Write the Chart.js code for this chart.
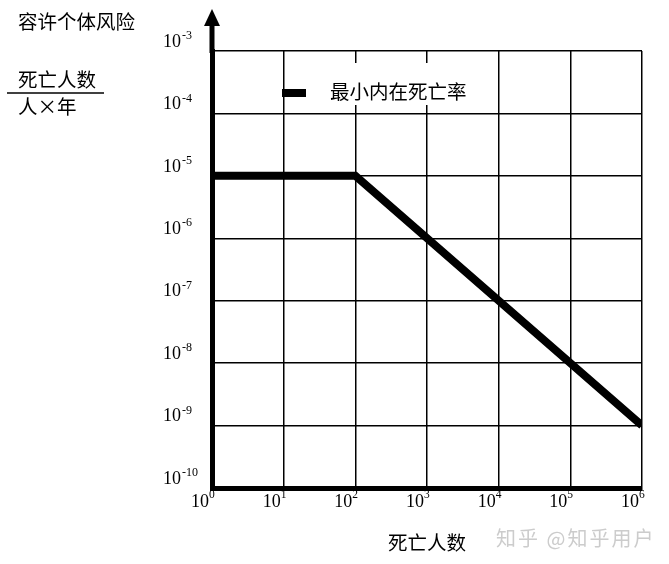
<!DOCTYPE html>
<html>
<head>
<meta charset="utf-8">
<script src="https://cdn.jsdelivr.net/npm/chart.js@4/dist/chart.umd.min.js"></script>
<style>
  html, body { margin: 0; padding: 0; background: #fff; }
  canvas { display: block; }
</style>
</head>
<body>
<canvas id="c" width="669" height="564"></canvas>
<script>
// ---- data ----
const seriesLabel = '最小内在死亡率';
const deaths = [1, 100, 1e6];          // 死亡人数
const risk = [1e-5, 1e-5, 1e-9];       // 容许个体风险
const xTicks = [1, 10, 100, 1e3, 1e4, 1e5, 1e6];
const yTicks = [1e-10, 1e-9, 1e-8, 1e-7, 1e-6, 1e-5, 1e-4, 1e-3];
const tickBase = '10';
const xTitle = '死亡人数';
const yTitle = '容许个体风险';
const yUnitTop = '死亡人数';
const yUnitBottom = '人×年';
const watermark = '知乎 @知乎用户';

function exponentOf(v) { return String(Math.round(Math.log10(v))); }

const SERIF = "'Liberation Serif', 'Times New Roman', serif";
const CJK = "'Noto Sans CJK SC', sans-serif";
const X_TICK_SIZE = 18, Y_TICK_SIZE = 18;

const overlay = {
  id: 'overlay',
  afterDatasetsDraw(chart) {
    const ctx = chart.ctx;
    const { left } = chart.chartArea;
    ctx.save();
    // legend (white backing breaks the grid like the reference)
    ctx.fillStyle = '#fff';
    ctx.fillRect(left + 98, 63, 172, 42);
    ctx.fillStyle = '#000';
    ctx.fillRect(left + 70, 89, 24, 8);
    ctx.font = '19.5px ' + CJK;
    ctx.textBaseline = 'middle';
    ctx.textAlign = 'left';
    ctx.fillText(chart.data.datasets[0].label, left + 118, 92);
    ctx.restore();
  },
  afterDraw(chart) {
    const ctx = chart.ctx;
    const { left, top } = chart.chartArea;
    const xs = chart.scales.x, ys = chart.scales.y;
    ctx.save();
    // exponents of the tick labels (superscripts)
    ctx.fillStyle = '#000';
    ctx.textBaseline = 'middle';
    ctx.textAlign = 'left';
    ctx.font = Y_TICK_SIZE + 'px ' + SERIF;
    const wY = ctx.measureText(tickBase).width;
    ctx.font = '12px ' + SERIF;
    ys.ticks.forEach(t => {
      const py = ys.getPixelForValue(t.value);
      ctx.fillText(exponentOf(t.value), ys.left + wY + 1, py - 15);
    });
    ctx.font = '11.5px ' + SERIF;
    xs.ticks.forEach(t => {
      const px = xs.getPixelForValue(t.value);
      ctx.fillText(exponentOf(t.value), px - 3, 495);
    });
    // y axis arrow
    ctx.fillRect(left - 2.5, 24, 5, top - 24 + 2);
    ctx.beginPath();
    ctx.moveTo(left, 9);
    ctx.lineTo(left - 8, 26);
    ctx.lineTo(left + 8, 26);
    ctx.closePath();
    ctx.fill();
    // y title and unit fraction
    ctx.font = '19.5px ' + CJK;
    ctx.fillText(yTitle, 18, 22);
    ctx.fillText(yUnitTop, 18, 80);
    ctx.fillText(yUnitBottom, 18, 107);
    ctx.strokeStyle = '#000';
    ctx.lineWidth = 1.5;
    ctx.beginPath();
    ctx.moveTo(7, 93);
    ctx.lineTo(104, 93);
    ctx.stroke();
    // watermark
    ctx.fillStyle = '#cccccc';
    ctx.font = '20px ' + CJK;
    if ('letterSpacing' in ctx) ctx.letterSpacing = '2px';
    ctx.fillText(watermark, 496, 538);
    ctx.restore();
  }
};

new Chart(document.getElementById('c'), {
  type: 'line',
  data: {
    datasets: [{
      label: seriesLabel,
      data: deaths.map((d, i) => ({ x: d, y: risk[i] })),
      borderColor: '#000',
      backgroundColor: '#000',
      borderWidth: 8,
      pointRadius: 0,
      borderJoinStyle: 'miter',
      borderCapStyle: 'butt',
      tension: 0,
      fill: false
    }]
  },
  options: {
    responsive: false,
    devicePixelRatio: 1,
    animation: false,
    layout: { padding: { top: 51, right: 27, left: 163, bottom: 0 } },
    plugins: {
      legend: { display: false },
      tooltip: { enabled: false }
    },
    scales: {
      x: {
        type: 'logarithmic',
        min: 1, max: 1e6,
        afterBuildTicks: s => { s.ticks = xTicks.map(v => ({ value: v })); },
        afterFit: s => { s.height = 76; },
        grid: { color: '#000', lineWidth: 1.5, drawTicks: false },
        border: { color: '#000', width: 5 },
        ticks: {
          callback: () => tickBase,
          color: '#000',
          font: { family: SERIF, size: X_TICK_SIZE },
          padding: 3,
          labelOffset: -12,
          maxRotation: 0, minRotation: 0,
          autoSkip: false
        },
        title: {
          display: true,
          text: xTitle,
          color: '#000',
          font: { family: CJK, size: 19.5 },
          padding: { top: 0, bottom: 10 }
        }
      },
      y: {
        type: 'logarithmic',
        min: 1e-10, max: 1e-3,
        afterBuildTicks: s => { s.ticks = yTicks.map(v => ({ value: v })); },
        afterFit: s => { s.width = 49; },
        grid: { color: '#000', lineWidth: 1.5, drawTicks: false },
        border: { color: '#000', width: 5 },
        ticks: {
          callback: () => tickBase,
          color: '#000',
          font: { family: SERIF, size: Y_TICK_SIZE },
          crossAlign: 'far',
          padding: 17,
          labelOffset: -9,
          autoSkip: false
        }
      }
    }
  },
  plugins: [overlay]
});
</script>
</body>
</html>
